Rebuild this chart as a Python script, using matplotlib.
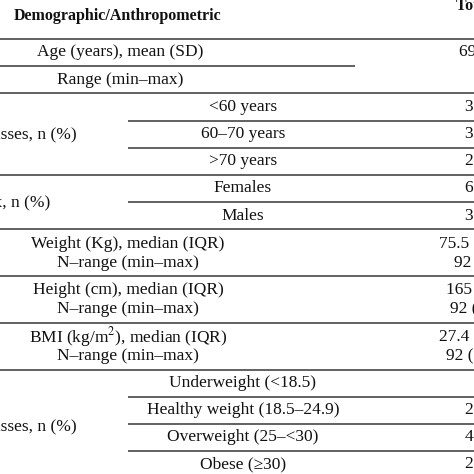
import matplotlib
matplotlib.use("Agg")
import matplotlib.pyplot as plt

header_left = "Demographic/Anthropometric"
header_right = ["Total Cohort", "(n = 95)"]
full_rows = [("Age (years), mean (SD)", "69.3 (10.2)", 52),
             ("Range (min–max)", "42–90", 80)]
age_cat = "Age classes, n (%)"
age_sub = ["<60 years", "60–70 years", ">70 years"]
age_val = ["31 (32.6)", "35 (36.8)", "29 (30.5)"]
sex_cat = "Sex, n (%)"
sex_sub = ["Females", "Males"]
sex_val = ["61 (64.2)", "34 (35.8)"]
pairs = [("Weight (Kg), median (IQR)", "75.5 (66.0–85.0)", "N–range (min–max)", "92 (51–120)"),
         ("Height (cm), median (IQR)", "165 (160–172)", "N–range (min–max)", "92 (150–190)"),
         (r"BMI (kg/m$^2$), median (IQR)", "27.4 (25.0–30.8)", "N–range (min–max)", "92 (17.7–41.2)")]
bmi_cat = "BMI classes, n (%)"
bmi_sub = ["Underweight (<18.5)", "Healthy weight (18.5–24.9)", "Overweight (25–<30)", "Obese (≥30)"]
bmi_val = ["1 (1.1)", "20 (21.7)", "43 (46.7)", "28 (30.4)"]

plt.rcParams['font.family'] = ['Liberation Serif', 'DejaVu Serif']
plt.rcParams['mathtext.fontset'] = 'stix'
fig = plt.figure(figsize=(4.74, 4.74), dpi=100)
ax = fig.add_axes([0, 0, 1, 1])
ax.set_xlim(0, 474); ax.set_ylim(474, 0); ax.axis('off')
lc = '#555555'
def hl(y, x0=0, x1=474):
    ax.plot([x0, x1], [y, y], color=lc, lw=1.3, solid_capstyle='butt')
def t(x, y, s, ha='center', fs=12.5, **k):
    ax.text(x, y, s, ha=ha, va='center', fontsize=fs, color='#111111', **k)

t(118, 16, header_left, weight='bold', fs=11.5)
t(500, 6, header_right[0], weight='bold', fs=11.5)
t(500, 26, header_right[1], weight='bold', fs=11.5)
hl(39)
RX = 497
t(120, full_rows[0][2], full_rows[0][0]); t(RX, full_rows[0][2], full_rows[0][1])
hl(66, 0, 355)
t(120, full_rows[1][2], full_rows[1][0]); t(RX, full_rows[1][2], full_rows[1][1])
hl(93)
ys = [107, 134, 161]
for s, v, y in zip(age_sub, age_val, ys):
    t(243, y, s); t(RX, y, v)
t(77, 135, age_cat, ha='right')
hl(121, 128); hl(148, 128); hl(175)
ys = [188, 216]
for s, v, y in zip(sex_sub, sex_val, ys):
    t(243, y, s); t(RX, y, v)
t(50, 203, sex_cat, ha='right')
hl(202, 128); hl(229)
tops = [244, 290, 337]
lines = [276, 323, 370]
for (a, av, b, bv), y, ly in zip(pairs, tops, lines):
    t(128, y, a); t(RX, y, av)
    t(128, y + 19, b); t(RX, y + 19, bv)
    hl(ly)
ys = [383, 410, 437, 464]
for s, v, y in zip(bmi_sub, bmi_val, ys):
    t(243, y, s); t(RX, y, v)
t(77, 426, bmi_cat, ha='right')
hl(397, 128); hl(424, 128); hl(451, 128)
fig.savefig("out.png", dpi=100)
